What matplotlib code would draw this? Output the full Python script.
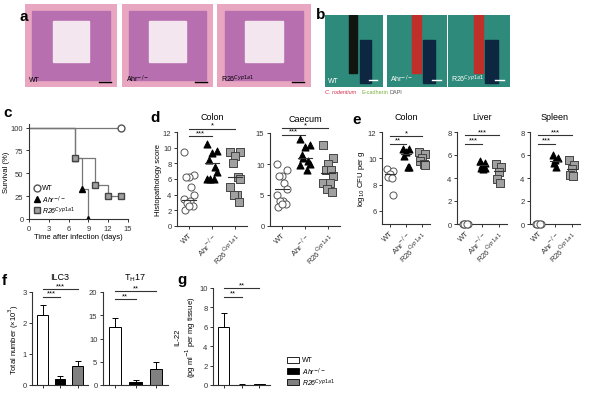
import matplotlib
matplotlib.use("Agg")
import matplotlib.pyplot as plt
import numpy as np
from matplotlib.patches import Rectangle

W, H = 600, 406
fig = plt.figure(figsize=(6, 4.06), dpi=100)
plt.rcParams['font.family'] = ['Liberation Sans', 'DejaVu Sans']
FS = 5.5

def ax_px(l, t, r, b):
    return fig.add_axes([l / W, 1 - b / H, (r - l) / W, (b - t) / H])

def style(ax):
    for s in ['top', 'right']:
        ax.spines[s].set_visible(False)
    for s in ['left', 'bottom']:
        ax.spines[s].set_linewidth(0.8)
        ax.spines[s].set_color('#333333')
    ax.tick_params(labelsize=FS, width=0.7, length=2.5, pad=1.5, colors='#333333')

def letter(x, y, s):
    fig.text(x / W, 1 - y / H, s, fontsize=11, fontweight='bold', va='center', ha='left')

# ---------------- data ----------------
groups = ['WT', 'Ahr$^{-/-}$', 'R26$^{Cyp1a1}$']
surv_days = [0, 7, 8, 9, 10, 12, 14]
surv_wt = [100, 100, 100, 100, 100, 100, 100]
surv_ahr_x = [0, 7, 8, 9]
surv_ahr_y = [100, 66.7, 33.3, 0]
surv_r26_x = [0, 7, 10, 12, 14]
surv_r26_y = [100, 66.7, 37.5, 25, 25]

d_colon = [[9.5, 6.5, 6.2, 6.2, 5, 4, 3.5, 3.2, 3, 2.5, 2, 2.5],
           [10.5, 9.6, 9.3, 8.4, 7.5, 6.9, 6, 6, 6],
           [9.5, 9.5, 9, 8, 6.2, 6, 5, 4, 4, 3.1]]
d_colon_mid = [3.3, 8.0, 6.3]
d_caec = [[10, 9, 8, 8, 7, 6, 5, 4, 4, 3.5, 3, 3.5],
          [14, 13, 12.8, 11.5, 10.5, 10, 9.8, 9, 11],
          [13, 11, 10, 9, 9, 8, 7, 7, 6, 5.5]]
d_caec_mid = [6.0, 11.0, 8.5]
e_colon = [[9.2, 9.0, 8.8, 8.6, 8.5, 7.2],
           [10.7, 10.7, 10.5, 10.2, 9.3, 9.3],
           [10.5, 10.3, 10.0, 9.8, 9.6, 9.5]]
e_colon_mid = [8.8, 10.3, 9.8]
e_liver = [[0, 0, 0, 0, 0], [5.5, 5.3, 5.1, 4.9, 4.8, 4.9], [5.2, 5.0, 4.5, 3.9, 3.6]]
e_liver_mid = [0, 5.1, 4.6]
e_spleen = [[0, 0, 0, 0, 0], [6.0, 5.7, 5.6, 5.3, 5.0], [5.6, 5.1, 4.8, 4.3, 4.2]]
e_spleen_mid = [0, 5.5, 4.8]
f_ilc3 = [2.25, 0.2, 0.6]
f_ilc3_err = [0.33, 0.1, 0.17]
f_th17 = [12.5, 0.6, 3.5]
f_th17_err = [2.0, 0.4, 1.5]
g_il22 = [6.0, 0.05, 0.1]
g_il22_err = [1.4, 0.03, 0.05]

mk = ['o', '^', 's']
fc = ['white', 'black', '#a0a0a0']
ec = ['#555555', 'black', '#444444']
barc = ['white', 'black', '#808080']

# ---------------- a and b: image panels ----------------
letter(20, 17, 'a')
for (l, r, lab) in [(25, 117, 'WT'), (122, 213, 'Ahr$^{-/-}$'), (217, 311, 'R26$^{Cyp1a1}$')]:
    ax = ax_px(l, 5, r, 88)
    ax.set_xlim(0, 1); ax.set_ylim(0, 1); ax.axis('off')
    ax.add_patch(Rectangle((0, 0), 1, 1, color='#e8a6c0'))
    ax.add_patch(Rectangle((0.08, 0.08), 0.84, 0.84, color='#b86fb0'))
    ax.add_patch(Rectangle((0.3, 0.3), 0.4, 0.5, color='#f3e6ef'))
    ax.text(0.04, 0.07, lab, fontsize=5, color='black')
    ax.plot([0.8, 0.93], [0.06, 0.06], color='black', lw=1)
letter(316, 15, 'b')
for (l, r, lab, red) in [(325, 383, 'WT', False), (387, 447, 'Ahr$^{-/-}$', True), (448, 510, 'R26$^{Cyp1a1}$', True)]:
    ax = ax_px(l, 16, r, 88)
    ax.set_xlim(0, 1); ax.set_ylim(0, 1); ax.axis('off')
    ax.add_patch(Rectangle((0, 0), 1, 1, color='#2e8a7a'))
    ax.add_patch(Rectangle((0.42, 0.2), 0.14, 0.8, color='#c0302a' if red else '#101510'))
    ax.add_patch(Rectangle((0.6, 0.05), 0.2, 0.6, color='#0d2740'))
    ax.text(0.05, 0.07, lab, fontsize=5, color='white')
    ax.plot([0.75, 0.9], [0.1, 0.1], color='white', lw=1)
fig.text(325 / W, 1 - 94 / H, 'C. rodentium', fontsize=4, color='#d03050', style='italic')
fig.text(361 / W, 1 - 94 / H, 'E-cadherin', fontsize=4, color='#7ab040')
fig.text(390 / W, 1 - 94 / H, 'DAPI', fontsize=4, color='#555555')

# ---------------- c ----------------
letter(3, 113, 'c')
ax = ax_px(29, 125, 128, 220)
style(ax)
ax.step(surv_days, surv_wt, where='post', color='#777777', lw=0.9)
ax.step(surv_ahr_x, surv_ahr_y, where='post', color='#777777', lw=0.9)
ax.step(surv_r26_x, surv_r26_y, where='post', color='#777777', lw=0.9)
ax.plot([14], [100], 'o', mfc='white', mec='#555555', ms=5)
ax.plot(surv_ahr_x[1:], surv_ahr_y[1:], '^', color='black', ms=4.5, ls='none')
ax.plot(surv_r26_x[1:], surv_r26_y[1:], 's', mfc='#a0a0a0', mec='#444444', ms=5, ls='none')
ax.set_xlim(0, 15); ax.set_ylim(0, 104)
ax.set_xticks([0, 3, 6, 9, 12, 15]); ax.set_yticks([0, 25, 50, 75, 100])
ax.set_xlabel('Time after infection (days)', fontsize=FS, labelpad=1)
ax.set_ylabel('Survival (%)', fontsize=FS, labelpad=1)
for i, (g, m) in enumerate(zip(groups, mk)):
    y = 189 + i * 11
    fig.lines.append(plt.Line2D([37 / W], [1 - y / H], marker=m, mfc=fc[i], mec=ec[i], ms=5, transform=fig.transFigure, ls='none'))
    fig.text(42 / W, 1 - y / H, g, fontsize=5, va='center', style='italic' if i else 'normal')

def sig(ax, x0, x1, y, txt):
    ax.plot([x0, x1], [y, y], color='#333333', lw=0.8, clip_on=False)
    ax.text((x0 + x1) / 2, y, txt, ha='center', va='bottom', fontsize=FS, clip_on=False)

def dots(ax, data, mids, ylim, yticks, title, sigs, ylabel=None, jit=0.22):
    style(ax)
    for i, vals in enumerate(data):
        n = len(vals)
        pattern = np.array([-1, 1, 0, -0.5, 0.5, 1, -1, 0.3, -0.3, 0.8, -0.8, 0])
        offs = pattern[:n] * jit
        ax.scatter(i + offs, vals, marker=mk[i], s=26, facecolor=fc[i], edgecolor=ec[i],
                   linewidths=0.7, zorder=3, clip_on=False)
        ax.plot([i - 0.3, i + 0.3], [mids[i], mids[i]], color='#333333', lw=0.8, zorder=4)
    ax.set_xlim(-0.5, 2.5); ax.set_ylim(*ylim); ax.set_yticks(yticks)
    ax.set_xticks([0, 1, 2]); ax.set_xticklabels(groups, rotation=45, ha='right', rotation_mode='anchor')
    ax.set_title(title, fontsize=6.5, pad=9)
    for (a, b, y, t) in sigs:
        sig(ax, a, b, y, t)
    if ylabel:
        ax.set_ylabel(ylabel, fontsize=FS, labelpad=1)

# ---------------- d ----------------
letter(150, 118, 'd')
ax = ax_px(177, 133, 247, 227)
dots(ax, d_colon, d_colon_mid, (0, 12), [0, 2, 4, 6, 8, 10, 12], 'Colon',
     [(0, 1, 11.5, '***'), (0, 2, 12.4, '*')], ylabel='Histopathology score')
ax = ax_px(270, 134, 340, 227)
dots(ax, d_caec, d_caec_mid, (0, 15), [0, 5, 10, 15], 'Caecum',
     [(0, 1, 14.7, '***'), (0, 2, 15.8, '*')])

# ---------------- e ----------------
letter(352, 120, 'e')
ax = ax_px(382, 133, 430, 225)
dots(ax, e_colon, e_colon_mid, (5, 12), [6, 8, 10, 12], 'Colon',
     [(0, 1, 11.1, '**'), (0, 2, 11.7, '*')], ylabel='log$_{10}$ CFU per g', jit=0.2)
ax = ax_px(457, 133, 507, 225)
dots(ax, e_liver, e_liver_mid, (0, 8), [0, 2, 4, 6, 8], 'Liver',
     [(0, 1, 7.0, '***'), (0, 2, 7.7, '***')], jit=0.15)
ax = ax_px(530, 133, 580, 225)
dots(ax, e_spleen, e_spleen_mid, (0, 8), [0, 2, 4, 6, 8], 'Spleen',
     [(0, 1, 7.0, '***'), (0, 2, 7.7, '***')], jit=0.15)

# ---------------- f, g ----------------
def bars(ax, vals, errs, ylim, yticks, title, sigs, ylabel=None):
    style(ax)
    x = np.arange(3)
    ax.bar(x, vals, width=0.6, color=barc, edgecolor='black', linewidth=0.7)
    ax.errorbar(x, vals, yerr=[np.zeros(3), errs], fmt='none', ecolor='black', elinewidth=0.7, capsize=2.5, capthick=0.7)
    ax.set_xlim(-0.6, 2.6); ax.set_ylim(*ylim); ax.set_yticks(yticks)
    ax.set_xticks(x); ax.set_xticklabels([])
    if title:
        ax.set_title(title, fontsize=6.5, pad=9)
    for (a, b, y, t) in sigs:
        sig(ax, a, b, y, t)
    if ylabel:
        ax.set_ylabel(ylabel, fontsize=FS, labelpad=1)

letter(2, 281, 'f')
ax = ax_px(32, 293, 88, 386)
bars(ax, f_ilc3, f_ilc3_err, (0, 3), [0, 1, 2, 3], 'ILC3',
     [(0, 1, 2.85, '***'), (0, 2, 3.1, '***')], ylabel='Total number (×10$^3$)')
ax = ax_px(103, 293, 168, 386)
bars(ax, f_th17, f_th17_err, (0, 20), [0, 5, 10, 15, 20], 'T$_{\\rm H}$17',
     [(0, 1, 18.5, '**'), (0, 2, 20.2, '**')])
letter(177, 280, 'g')
ax = ax_px(213, 289, 270, 386)
bars(ax, g_il22, g_il22_err, (0, 10), [0, 2, 4, 6, 8, 10], None,
     [(0, 1, 9.1, '**'), (0, 2, 10.0, '**')], ylabel='IL-22\n(pg ml$^{-1}$ per mg tissue)')
for i, g in enumerate(groups):
    y = 361 + i * 11
    fig.patches.append(Rectangle((287 / W, 1 - (y + 3) / H), 12 / W, 6 / H, facecolor=barc[i],
                                 edgecolor='black', lw=0.6, transform=fig.transFigure))
    fig.text(302 / W, 1 - y / H, g, fontsize=5, va='center', style='italic' if i else 'normal')

fig.savefig('out.png', dpi=100, facecolor='white')
